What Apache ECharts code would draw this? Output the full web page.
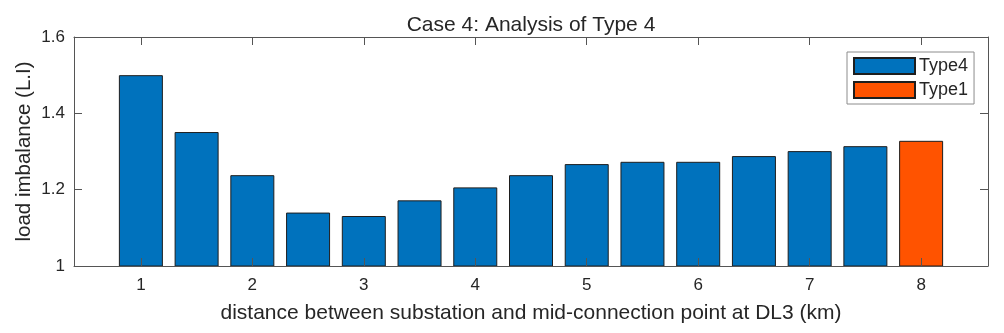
<!DOCTYPE html>
<html>
<head>
<meta charset="utf-8">
<script src="https://cdn.jsdelivr.net/npm/echarts@6/dist/echarts.min.js"></script>
<style>
html,body{margin:0;padding:0;background:#fff;}
#chart{width:1004px;height:333px;}
</style>
</head>
<body>
<div id="chart"></div>
<script>
const type4Positions = [1, 1.5, 2, 2.5, 3, 3.5, 4, 4.5, 5, 5.5, 6, 6.5, 7, 7.5];
const type4Values = [1.500, 1.351, 1.238, 1.140, 1.131, 1.172, 1.206, 1.238, 1.267, 1.273, 1.273, 1.288, 1.301, 1.314];
const type1Positions = [8];
const type1Values = [1.328];
const xTicks = [1, 2, 3, 4, 5, 6, 7, 8];
const yTicks = [1, 1.2, 1.4, 1.6];

const titleText = 'Case 4: Analysis of Type 4';
const xName = 'distance between substation and mid-connection point at DL3 (km)';
const yName = 'load imbalance (L.I)';

const FONT = '"Liberation Sans", Arial, Helvetica, sans-serif';
const TXT = '#262626';
const AX = '#555555';

const chart = echarts.init(document.getElementById('chart'), null, {renderer: 'canvas'});

function pairs(xs, ys) { return xs.map((x, i) => [x, ys[i]]); }

const barStyleBase = {borderColor: '#1e1e1e', borderWidth: 1};

chart.setOption({
  animation: false,
  backgroundColor: '#ffffff',
  textStyle: {fontFamily: FONT},
  title: {
    text: titleText,
    left: 526,
    textAlign: 'center',
    top: 10,
    textStyle: {fontFamily: FONT, fontSize: 21, fontWeight: 'normal', color: TXT}
  },
  legend: {
    orient: 'vertical',
    left: 847,
    top: 52,
    itemWidth: 61,
    itemHeight: 16,
    itemGap: 6,
    padding: [5, 6, 5, 6],
    borderColor: '#8c8c8c',
    borderWidth: 1,
    backgroundColor: '#fff',
    icon: 'rect',
    textStyle: {fontFamily: FONT, fontSize: 18, color: TXT, padding: [0, 0, 0, -1]},
    data: ['Type4', 'Type1']
  },
  grid: {left: 74, right: 16, top: 37, bottom: 67, containLabel: false, outerBoundsMode: 'none'},
  xAxis: [{
    type: 'value',
    min: 0.4, max: 8.6,
    position: 'bottom',
    z: 10,
    name: xName,
    nameLocation: 'middle',
    nameGap: 37,
    nameTextStyle: {fontFamily: FONT, fontSize: 21, color: TXT},
    axisLine: {show: true, lineStyle: {color: AX, width: 1}},
    axisTick: {show: true, inside: true, length: 8, customValues: xTicks, lineStyle: {color: AX}},
    axisLabel: {customValues: xTicks, margin: 11, fontFamily: FONT, fontSize: 17, color: TXT, formatter: v => String(v)},
    splitLine: {show: false}
  }, {
    type: 'value',
    min: 0.4, max: 8.6,
    position: 'top',
    z: 10,
    axisLine: {show: true, lineStyle: {color: AX, width: 1}},
    axisTick: {show: true, inside: true, length: 8, customValues: xTicks, lineStyle: {color: AX}},
    axisLabel: {show: false},
    splitLine: {show: false}
  }],
  yAxis: [{
    type: 'value',
    min: 1, max: 1.6, interval: 0.2,
    position: 'left',
    z: 10,
    name: yName,
    nameLocation: 'middle',
    nameGap: 39,
    nameMoveOverlap: false,
    nameTextStyle: {fontFamily: FONT, fontSize: 20.5, color: TXT},
    axisLine: {show: true, lineStyle: {color: AX, width: 1}},
    axisTick: {show: true, inside: true, length: 8, lineStyle: {color: AX}},
    axisLabel: {margin: 9, fontFamily: FONT, fontSize: 17, color: TXT,
      formatter: v => { const t = yTicks.find(k => Math.abs(k - v) < 1e-9); return t === undefined ? '' : String(t); }},
    splitLine: {show: false}
  }, {
    type: 'value',
    min: 1, max: 1.6, interval: 0.2,
    position: 'right',
    z: 10,
    axisLine: {show: true, lineStyle: {color: AX, width: 1}},
    axisTick: {show: true, inside: true, length: 8, lineStyle: {color: AX}},
    axisLabel: {show: false},
    splitLine: {show: false}
  }],
  series: [{
    name: 'Type4',
    type: 'bar',
    xAxisIndex: 0, yAxisIndex: 0,
    barWidth: 44,
    barGap: '-100%',
    itemStyle: Object.assign({color: '#0072BD'}, barStyleBase),
    data: pairs(type4Positions, type4Values)
  }, {
    name: 'Type1',
    type: 'bar',
    xAxisIndex: 0, yAxisIndex: 0,
    barWidth: 44,
    barGap: '-100%',
    itemStyle: Object.assign({color: '#FF5300'}, barStyleBase),
    data: pairs(type1Positions, type1Values)
  }]
});
</script>
</body>
</html>
